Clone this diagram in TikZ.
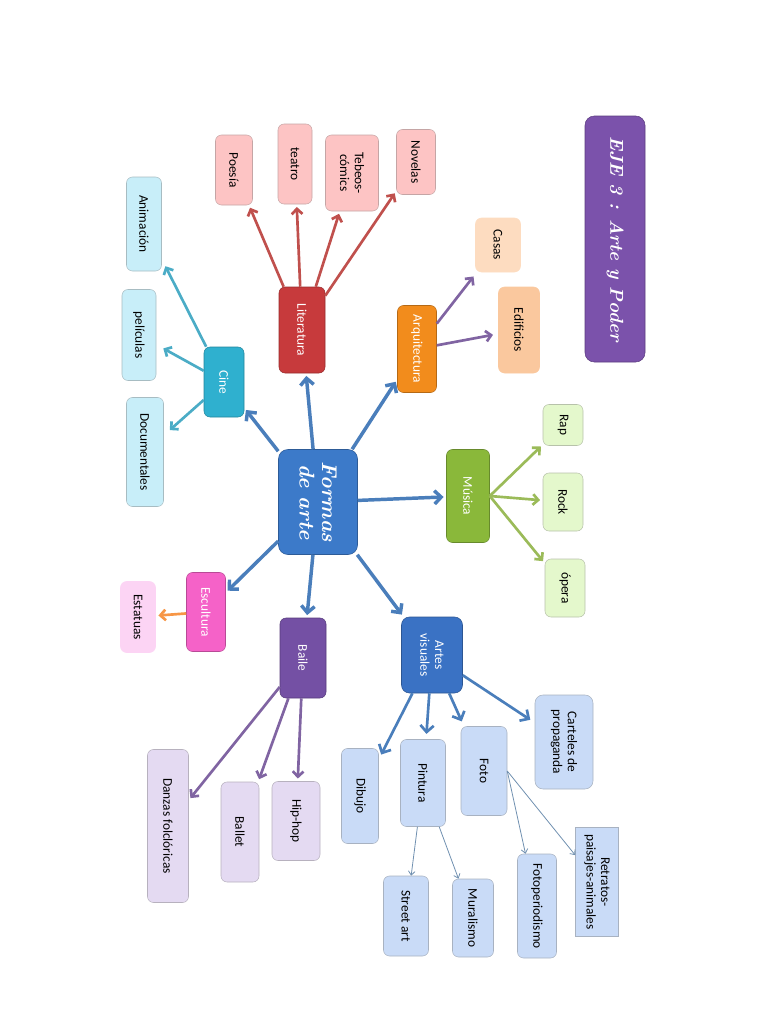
\documentclass[tikz,border=0pt]{standalone}
\usepackage{fontspec}
\newfontfamily\labelfont{Carlito}
\usetikzlibrary{arrows.meta}
\newlength{\pxu}\setlength{\pxu}{0.75pt}

\definecolor{titlepurple}{HTML}{7B52AB}
\definecolor{hubblue}{HTML}{3C7AC9}
\definecolor{litred}{HTML}{C73A3C}
\definecolor{cineteal}{HTML}{2FB0CF}
\definecolor{arqorange}{HTML}{F28C1C}
\definecolor{musgreen}{HTML}{8AB83A}
\definecolor{escpink}{HTML}{F562C8}
\definecolor{bailepurple}{HTML}{7450A4}
\definecolor{avblue}{HTML}{3A72C4}
\definecolor{litleaf}{HTML}{FDC4C4}
\definecolor{cineleaf}{HTML}{C8EEF9}
\definecolor{casasleaf}{HTML}{FDDCC0}
\definecolor{edifleaf}{HTML}{FAC89E}
\definecolor{musleaf}{HTML}{E4F8CC}
\definecolor{escleaf}{HTML}{FCD4F4}
\definecolor{baileleaf}{HTML}{E4DAF2}
\definecolor{avleaf}{HTML}{C9DBF7}
\definecolor{arrowblue}{HTML}{4A7EBB}
\definecolor{arrowred}{HTML}{C0504D}
\definecolor{arrowteal}{HTML}{4BACC6}
\definecolor{arrowpurple}{HTML}{8064A2}
\definecolor{arrowgreen}{HTML}{9BBB59}
\definecolor{arroworange}{HTML}{F79646}
\definecolor{arrowthin}{HTML}{7090B0}

\tikzset{
  box/.style={draw, rounded corners=4.5pt, rotate=-90, align=center, inner sep=1pt,
    font=\labelfont\fontsize{10}{11}\selectfont},
  sz/.style 2 args={minimum width=#1\pxu, minimum height=#2\pxu},
  branch/.style={box, fill=#1, draw=#1!75!black, text=white},
  leaf/.style={box, fill=#1, draw=#1!55!gray},
  link/.style={draw=#1, line width=2.6pt, -{Straight Barb[length=5pt,width=10pt]}},
  sublink/.style={draw=#1, line width=2pt, -{Straight Barb[length=4pt,width=8pt]}},
  thinlink/.style={draw=arrowthin, line width=0.6pt, -{Straight Barb[length=3pt,width=5pt]}}
}

\begin{document}
\begin{tikzpicture}[x=0.75pt, y=-0.75pt]
	\useasboundingbox (0,0) rectangle (768,1024);
	% title and hub
	\node[branch=titlepurple, sz={246}{60}, rounded corners=7pt, font=\bfseries\itshape\fontsize{14}{15}\selectfont] (title) at (615,239) {EJE 3 : Arte y Poder};
	\node[branch=hubblue, sz={105}{79}, rounded corners=7pt, font=\bfseries\itshape\fontsize{16}{17}\selectfont] (hub) at (318,502) {Formas\\de arte};
	% branches
	\node[branch=litred, sz={86}{46}] (lit) at (302,330) {Literatura};
	\node[branch=cineteal, sz={70}{40}] (cine) at (224,382) {Cine};
	\node[branch=arqorange, sz={87}{39}] (arq) at (417,349) {Arquitectura};
	\node[branch=musgreen, sz={93}{43}] (mus) at (468,496) {Música};
	\node[branch=escpink, sz={79}{39}] (esc) at (206,612) {Escultura};
	\node[branch=bailepurple, sz={80}{46}] (baile) at (303,658) {Baile};
	\node[branch=avblue, sz={76}{61}, rounded corners=6pt] (av) at (432,655) {Artes\\visuales};
	% literatura
	\node[leaf=litleaf, sz={70}{37}] (poesia) at (234,170) {Poesía};
	\node[leaf=litleaf, sz={80}{34}] (teatro) at (295,164) {teatro};
	\node[leaf=litleaf, sz={76}{53}] (tebeos) at (352,173) {Tebeos-\\cómics};
	\node[leaf=litleaf, sz={65}{39}] (novelas) at (416,162) {Novelas};
	% cine
	\node[leaf=cineleaf, sz={94}{35}] (anim) at (144,224) {Animación};
	\node[leaf=cineleaf, sz={91}{34}] (peli) at (139,335) {películas};
	\node[leaf=cineleaf, sz={109}{37}] (docu) at (145,452) {Documentales};
	% arquitectura
	\node[leaf=casasleaf, draw=casasleaf, sz={54}{45}] (casas) at (498,245) {Casas};
	\node[leaf=edifleaf, draw=edifleaf, sz={86}{41}] (edif) at (519,330) {Edificios};
	% musica
	\node[leaf=musleaf, sz={41}{40}] (rap) at (563,425) {Rap};
	\node[leaf=musleaf, sz={58}{40}] (rock) at (563,502) {Rock};
	\node[leaf=musleaf, sz={58}{40}] (opera) at (565,588) {ópera};
	% escultura
	\node[leaf=escleaf, draw=escleaf, sz={71}{35}] (estat) at (138,617) {Estatuas};
	% baile
	\node[leaf=baileleaf, sz={153}{41}] (danzas) at (168,826) {Danzas folclóricas};
	\node[leaf=baileleaf, sz={100}{38}] (ballet) at (240,832) {Ballet};
	\node[leaf=baileleaf, sz={79}{48}] (hiphop) at (296,821) {Hip-hop};
	% artes visuales
	\node[leaf=avleaf, sz={95}{37}] (dibujo) at (360,796) {Dibujo};
	\node[leaf=avleaf, sz={87}{45}] (pintura) at (423,783) {Pintura};
	\node[leaf=avleaf, sz={89}{46}] (foto) at (484,771) {Foto};
	\node[leaf=avleaf, sz={94}{58}, rounded corners=6pt] (carteles) at (564,742) {Carteles de\\propaganda};
	\node[leaf=avleaf, sz={80}{45}] (street) at (406,916) {Street art};
	\node[leaf=avleaf, sz={78}{41}] (mural) at (473,918) {Muralismo};
	\node[leaf=avleaf, sz={104}{39}] (fotoper) at (537,906) {Fotoperiodismo};
	\node[leaf=avleaf, sz={109}{43}, sharp corners] (retratos) at (597,882) {Retratos-\\paisajes-animales};
	% hub links
	\foreach \b in {lit,cine,arq,mus,esc,baile,av} {\draw[link=arrowblue, shorten >=2pt] (hub) -- (\b);}
	% sub links
	\foreach \l in {poesia,teatro,tebeos,novelas} {\draw[sublink=arrowred, shorten >=2pt] (lit) -- (\l);}
	\foreach \l in {anim,peli,docu} {\draw[sublink=arrowteal, shorten >=6pt] (cine) -- (\l);}
	\foreach \l in {casas,edif} {\draw[sublink=arrowpurple, shorten >=4pt] (arq) -- (\l);}
	\foreach \l in {rap,rock,opera} {\draw[sublink=arrowgreen, shorten >=2pt] (mus.north) -- (\l);}
	\draw[sublink=arroworange, shorten >=2pt] (esc) -- (estat);
	\foreach \l in {danzas,ballet,hiphop} {\draw[sublink=arrowpurple, shorten >=2pt] (baile) -- (\l);}
	\foreach \l in {dibujo,pintura,foto,carteles} {\draw[link=arrowblue, line width=2pt, shorten >=4pt] (av) -- (\l);}
	\foreach \l in {street,mural} {\draw[thinlink] (pintura) -- (\l);}
	\foreach \l in {fotoper,retratos} {\draw[thinlink] (foto.north) -- (\l);}
\end{tikzpicture}
\end{document}
